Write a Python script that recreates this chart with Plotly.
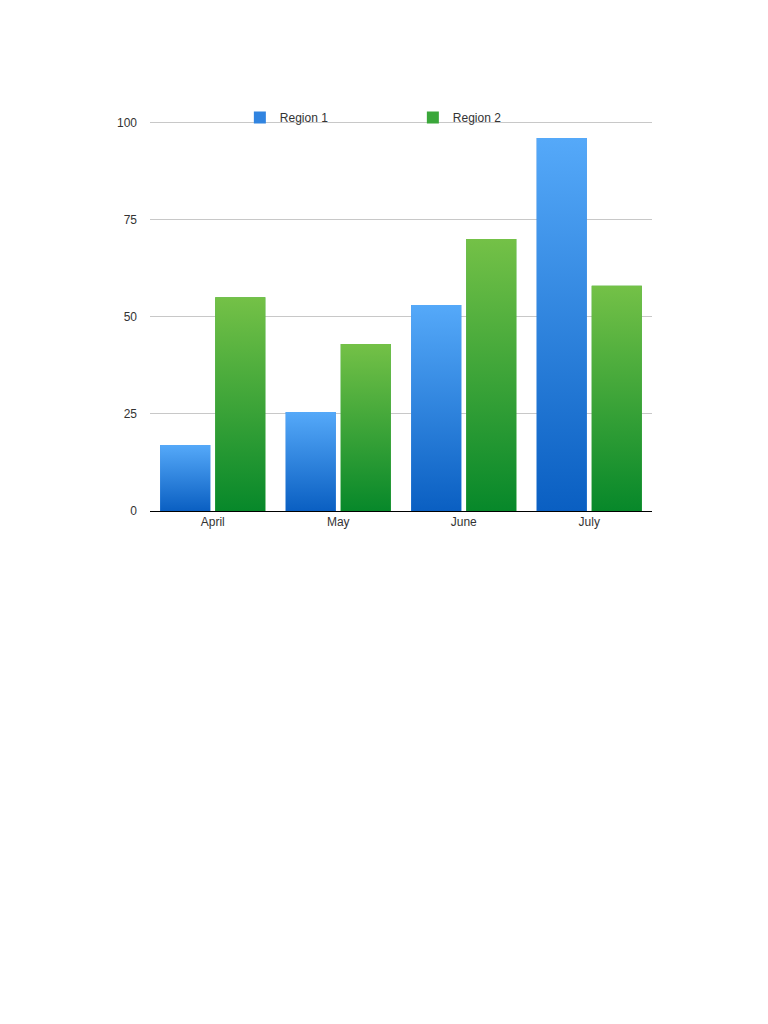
import plotly.graph_objects as go

months = ["April", "May", "June", "July"]
region1 = [17, 25.5, 53, 96]
region2 = [55, 43, 70, 58]
series_names = ["Region 1", "Region 2"]
y_ticks = [0, 25, 50, 75, 100]

colors_mid = ["#3184e0", "#3aa73a"]
grad_top = ["#55a9f9", "#74c147"]
grad_bot = ["#0a5fc2", "#07882a"]

BARGAP = 0.123
GROUPGAP = 0.09
xs = list(range(len(months)))

fig = go.Figure()
all_series = [region1, region2]
for s, vals in enumerate(all_series):
    fig.add_trace(go.Bar(
        x=xs, y=vals, name=series_names[s],
        marker=dict(color=colors_mid[s], line=dict(width=0)),
    ))

# gradient overlay per bar, derived from the same data
group_w = 1 - BARGAP
slot = group_w / 2
half = slot * (1 - GROUPGAP) / 2
for s, vals in enumerate(all_series):
    for i, v in zip(xs, vals):
        c = i - group_w / 2 + slot * (s + 0.5)
        fig.add_trace(go.Scatter(
            x=[c - half, c + half, c + half, c - half, c - half],
            y=[0, 0, v, v, 0],
            mode="lines", line=dict(width=0),
            fill="toself",
            fillgradient=dict(type="vertical",
                              colorscale=[[0, grad_bot[s]], [1, grad_top[s]]]),
            showlegend=False, hoverinfo="skip",
        ))

fig.update_layout(
    width=768, height=1024,
    margin=dict(l=142, r=124, t=113.45, b=521),
    paper_bgcolor="white", plot_bgcolor="white",
    barmode="group", bargap=BARGAP, bargroupgap=GROUPGAP,
    font=dict(family="Liberation Sans, Arial, sans-serif", size=12, color="#333333"),
    showlegend=True,
    legend=dict(orientation="h", x=0.179, y=1.0092, xanchor="left", yanchor="middle",
                entrywidth=128, entrywidthmode="pixels",
                font=dict(size=12, color="#333333"), bgcolor="rgba(0,0,0,0)",
                itemsizing="constant"),
    xaxis=dict(range=[-0.5, len(months) - 0.5], tickvals=xs, ticktext=months,
               showgrid=False, zeroline=False, showline=True, linecolor="#000000",
               linewidth=1, ticks="", tickfont=dict(size=12, color="#333333")),
    yaxis=dict(range=[0, 100.4], tickvals=y_ticks, showgrid=True, gridcolor="#c8c8c8",
               gridwidth=1, zeroline=False, showline=False, ticks="",
               ticklabelstandoff=12, tickfont=dict(size=12, color="#333333")),
)

fig.write_html("out.html")
